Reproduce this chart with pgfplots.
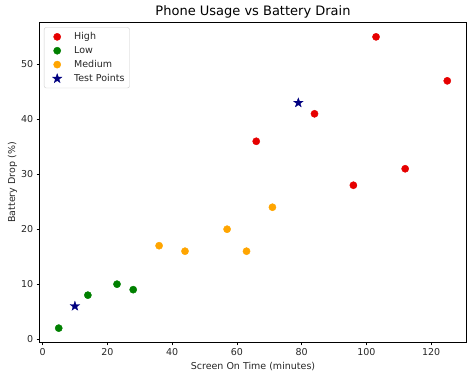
\documentclass[border=0pt]{standalone}
\usepackage{fontspec}
\setmainfont{DejaVu Sans}
\usepackage{pgfplots}
\pgfplotsset{compat=1.18}
\definecolor{mplred}{RGB}{230,0,0}
\definecolor{mplgreen}{RGB}{0,128,0}
\definecolor{mplorange}{RGB}{255,165,0}
\definecolor{mplnavy}{RGB}{0,0,128}
% filled five-pointed star marker
\pgfdeclareplotmark{fstar}{%
  \pgfpathmoveto{\pgfqpointpolar{90}{\pgfplotmarksize}}%
  \pgfpathlineto{\pgfqpointpolar{126}{0.4\pgfplotmarksize}}%
  \pgfpathlineto{\pgfqpointpolar{162}{\pgfplotmarksize}}%
  \pgfpathlineto{\pgfqpointpolar{198}{0.4\pgfplotmarksize}}%
  \pgfpathlineto{\pgfqpointpolar{234}{\pgfplotmarksize}}%
  \pgfpathlineto{\pgfqpointpolar{270}{0.4\pgfplotmarksize}}%
  \pgfpathlineto{\pgfqpointpolar{306}{\pgfplotmarksize}}%
  \pgfpathlineto{\pgfqpointpolar{342}{0.4\pgfplotmarksize}}%
  \pgfpathlineto{\pgfqpointpolar{18}{\pgfplotmarksize}}%
  \pgfpathlineto{\pgfqpointpolar{54}{0.4\pgfplotmarksize}}%
  \pgfpathclose
  \pgfusepathqfillstroke}
\begin{document}
\begin{tikzpicture}
\begin{axis}[
  scale only axis,
  width=427.4pt, height=320.4pt,
  xmin=-1, xmax=131, ymin=-0.65, ymax=57.65,
  xtick={0,20,...,120}, ytick={0,10,...,50},
  tick align=outside, tick pos=left,
  major tick length=2.6pt,
  tick style={black, line width=0.6pt},
  axis line style={line width=0.6pt},
  /pgf/number format/assume math mode=true,
  ticklabel style={font=\fontsize{9.5}{11}\selectfont, text=black!85},
  title={Phone Usage vs Battery Drain},
  title style={font=\fontsize{13}{15}\selectfont, yshift=-5pt},
  xlabel={Screen On Time (minutes)},
  ylabel={Battery Drop (\%)},
  label style={font=\fontsize{9.5}{11}\selectfont, text=black!85},
  xlabel style={yshift=1pt},
  ylabel style={yshift=-3pt},
  legend cell align=left,
  legend image code/.code={%
    \pgfpathrectangle{\pgfpoint{0pt}{-1pt}}{\pgfpoint{25pt}{2pt}}\pgfusepath{discard}%
    \draw[#1] plot coordinates {(10pt,0pt)};},
  legend style={at={(0,1)}, anchor=north west, xshift=4.7pt, yshift=-5pt,
    draw=black!20, rounded corners=2pt, font=\fontsize{9.5}{11}\selectfont,
    row sep=1.3pt, inner sep=3pt, text=black!85},
]
\addplot[only marks, mark=*, mark size=3.6pt, mplred, mark options={draw=mplred, fill=mplred}]
  coordinates {(66,36) (84,41) (96,28) (103,55) (112,31) (125,47)};
\addlegendentry{High}
\addplot[only marks, mark=*, mark size=3.6pt, mplgreen, mark options={draw=mplgreen, fill=mplgreen}]
  coordinates {(5,2) (14,8) (23,10) (28,9)};
\addlegendentry{Low}
\addplot[only marks, mark=*, mark size=3.6pt, mplorange, mark options={draw=mplorange, fill=mplorange}]
  coordinates {(36,17) (44,16) (57,20) (63,16) (71,24)};
\addlegendentry{Medium}
\addplot[only marks, mark=fstar, mark size=5pt, mplnavy,
  mark options={draw=mplnavy, fill=mplnavy, line width=0.3pt}]
  coordinates {(10,6) (79,43)};
\addlegendentry{Test Points}
\end{axis}
\pgfresetboundingbox
\path ([shift={(-39.3pt,-35.3pt)}]current axis.south west) rectangle ([shift={(7.3pt,22.3pt)}]current axis.north east);
\end{tikzpicture}
\end{document}
